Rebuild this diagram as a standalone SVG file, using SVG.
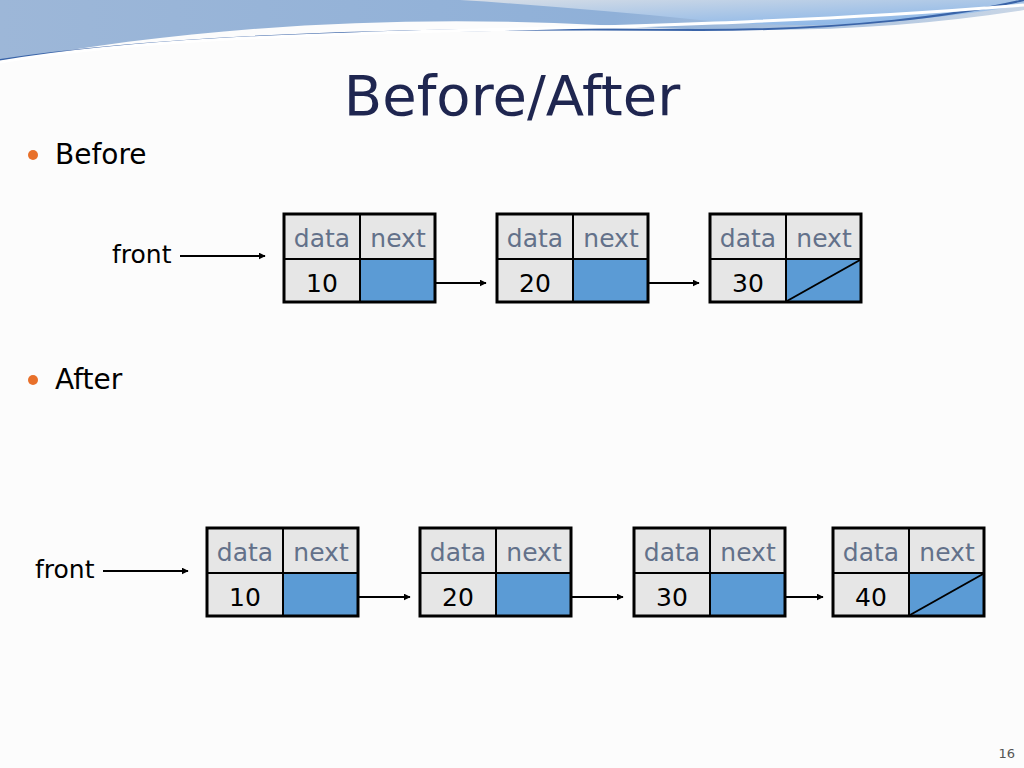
<svg xmlns="http://www.w3.org/2000/svg" width="1024" height="768" viewBox="0 0 1024 768">
<defs>
<linearGradient id="sky" x1="0" y1="0" x2="1" y2="0"><stop offset="0" stop-color="#9db7d8"/><stop offset="0.6" stop-color="#8fb0d8"/><stop offset="1" stop-color="#c9d6e6"/></linearGradient>
<linearGradient id="sky2" x1="0" y1="0" x2="1" y2="1"><stop offset="0" stop-color="#d6dde6"/><stop offset="1" stop-color="#7fb0e8"/></linearGradient>
<marker id="ah" viewBox="0 0 10 10" refX="9" refY="5" markerWidth="7" markerHeight="7" orient="auto" markerUnits="userSpaceOnUse"><path d="M0,0 L10,5 L0,10 z" fill="#000"/></marker>
</defs>
<style>
.h{fill:#e6e6e6;stroke:#000;stroke-width:2}
.n{fill:#5b9bd5;stroke:#000;stroke-width:2}
.frame{fill:none;stroke:#000;stroke-width:3}
.ht{font-family:"DejaVu Sans",sans-serif;font-size:25px;fill:#63718a;text-anchor:middle}
.vt{font-family:"DejaVu Sans",sans-serif;font-size:25px;fill:#000;text-anchor:middle}
.lbl{font-family:"DejaVu Sans",sans-serif;font-size:25px;fill:#000}
.bt{font-family:"DejaVu Sans",sans-serif;font-size:28px;fill:#000}
.ln{stroke:#000;stroke-width:2;fill:none}
</style>
<rect width="1024" height="768" fill="#fcfcfc"/>
<path d="M0,0 H1024 V10 C900,30 760,35 600,25 C400,15 200,25 0,62 Z" fill="url(#sky)"/>
<path d="M460,0 H1024 V5 C900,25 800,30 700,20 C620,12 540,5 460,0 Z" fill="url(#sky2)"/>
<path d="M0,60 C200,30 500,28 700,30 C850,30 960,15 1024,0" fill="none" stroke="#3a64a8" stroke-width="2"/>
<path d="M0,62 C250,20 600,40 1024,5" fill="none" stroke="#ffffff" stroke-width="3"/>
<text x="512" y="115" font-family="'DejaVu Sans',sans-serif" font-size="56" fill="#1f2650" text-anchor="middle">Before/After</text>
<circle cx="33" cy="155" r="5" fill="#e8702a"/>
<text class="bt" x="55" y="164">Before</text>
<circle cx="33" cy="380" r="5" fill="#e8702a"/>
<text class="bt" x="55" y="389">After</text>
<g id="connectors">
<line class="ln" x1="180" y1="256" x2="265" y2="256" marker-end="url(#ah)"/>
<line class="ln" x1="401" y1="283" x2="486" y2="283" marker-end="url(#ah)"/>
<line class="ln" x1="614" y1="283" x2="699" y2="283" marker-end="url(#ah)"/>
<line class="ln" x1="103" y1="571" x2="188" y2="571" marker-end="url(#ah)"/>
<line class="ln" x1="325" y1="597" x2="410" y2="597" marker-end="url(#ah)"/>
<line class="ln" x1="538" y1="597" x2="623" y2="597" marker-end="url(#ah)"/>
<line class="ln" x1="738" y1="597" x2="823" y2="597" marker-end="url(#ah)"/>
</g>
<text class="lbl" x="112" y="263">front</text>
<text class="lbl" x="35" y="578">front</text>
<g id="b1" transform="translate(284,214)"><rect class="h" width="151" height="45"/><rect class="h" y="45" width="76" height="43"/><rect class="n" x="76" y="45" width="75" height="43"/><line class="ln" x1="76" y1="0" x2="76" y2="45"/><rect class="frame" width="151" height="88"/><text class="ht" x="38" y="33">data</text><text class="ht" x="114" y="33">next</text><text class="vt" x="38" y="78">10</text></g>
<g id="b2" transform="translate(497,214)"><rect class="h" width="151" height="45"/><rect class="h" y="45" width="76" height="43"/><rect class="n" x="76" y="45" width="75" height="43"/><line class="ln" x1="76" y1="0" x2="76" y2="45"/><rect class="frame" width="151" height="88"/><text class="ht" x="38" y="33">data</text><text class="ht" x="114" y="33">next</text><text class="vt" x="38" y="78">20</text></g>
<g id="b3" transform="translate(710,214)"><rect class="h" width="151" height="45"/><rect class="h" y="45" width="76" height="43"/><rect class="n" x="76" y="45" width="75" height="43"/><line class="ln" x1="76" y1="0" x2="76" y2="45"/><line class="ln" x1="77" y1="87" x2="150" y2="46"/><rect class="frame" width="151" height="88"/><text class="ht" x="38" y="33">data</text><text class="ht" x="114" y="33">next</text><text class="vt" x="38" y="78">30</text></g>
<g id="a1" transform="translate(207,528)"><rect class="h" width="151" height="45"/><rect class="h" y="45" width="76" height="43"/><rect class="n" x="76" y="45" width="75" height="43"/><line class="ln" x1="76" y1="0" x2="76" y2="45"/><rect class="frame" width="151" height="88"/><text class="ht" x="38" y="33">data</text><text class="ht" x="114" y="33">next</text><text class="vt" x="38" y="78">10</text></g>
<g id="a2" transform="translate(420,528)"><rect class="h" width="151" height="45"/><rect class="h" y="45" width="76" height="43"/><rect class="n" x="76" y="45" width="75" height="43"/><line class="ln" x1="76" y1="0" x2="76" y2="45"/><rect class="frame" width="151" height="88"/><text class="ht" x="38" y="33">data</text><text class="ht" x="114" y="33">next</text><text class="vt" x="38" y="78">20</text></g>
<g id="a3" transform="translate(634,528)"><rect class="h" width="151" height="45"/><rect class="h" y="45" width="76" height="43"/><rect class="n" x="76" y="45" width="75" height="43"/><line class="ln" x1="76" y1="0" x2="76" y2="45"/><rect class="frame" width="151" height="88"/><text class="ht" x="38" y="33">data</text><text class="ht" x="114" y="33">next</text><text class="vt" x="38" y="78">30</text></g>
<g id="a4" transform="translate(833,528)"><rect class="h" width="151" height="45"/><rect class="h" y="45" width="76" height="43"/><rect class="n" x="76" y="45" width="75" height="43"/><line class="ln" x1="76" y1="0" x2="76" y2="45"/><line class="ln" x1="77" y1="87" x2="150" y2="46"/><rect class="frame" width="151" height="88"/><text class="ht" x="38" y="33">data</text><text class="ht" x="114" y="33">next</text><text class="vt" x="38" y="78">40</text></g>
<text x="1015" y="758" font-family="'DejaVu Sans',sans-serif" font-size="13" fill="#555" text-anchor="end">16</text>
</svg>
